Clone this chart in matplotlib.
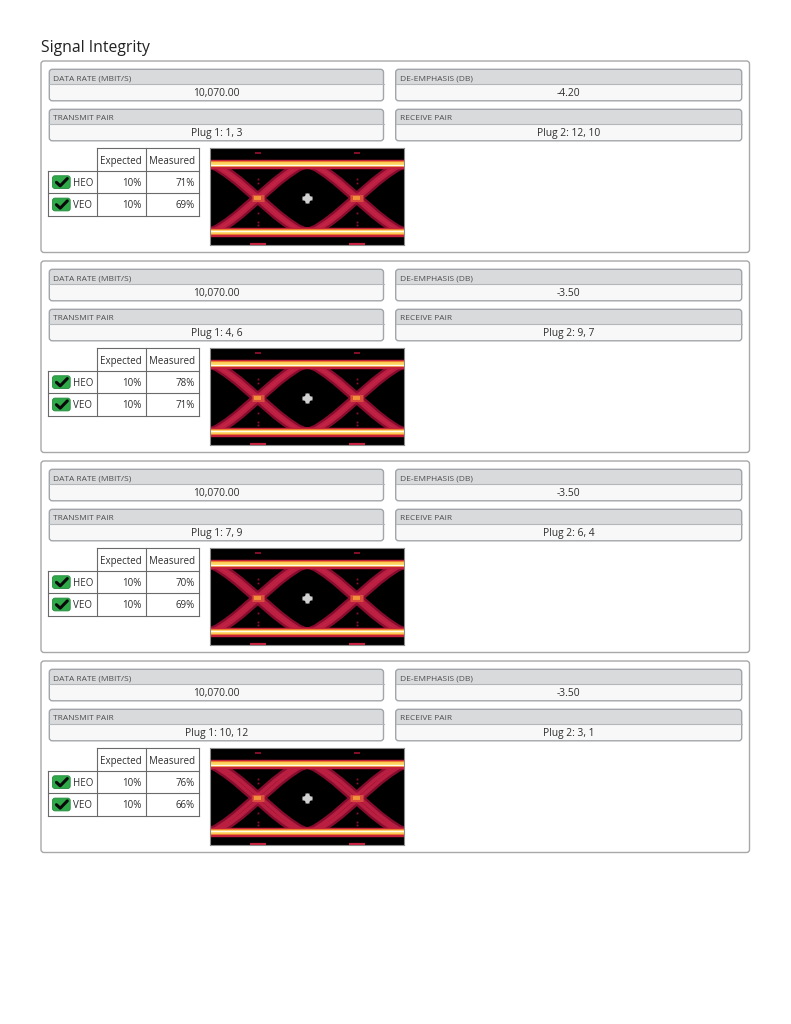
import numpy as np
import matplotlib
matplotlib.use('Agg')
import matplotlib.pyplot as plt
from matplotlib.patches import FancyBboxPatch, Rectangle

plt.rcParams['font.family'] = ['Open Sans', 'DejaVu Sans']

# values shown in the four result panels
data_rate = ['10,070.00', '10,070.00', '10,070.00', '10,070.00']
de_emphasis = ['-4.20', '-3.50', '-3.50', '-3.50']
transmit_pair = ['Plug 1: 1, 3', 'Plug 1: 4, 6', 'Plug 1: 7, 9', 'Plug 1: 10, 12']
receive_pair = ['Plug 2: 12, 10', 'Plug 2: 9, 7', 'Plug 2: 6, 4', 'Plug 2: 3, 1']
metrics = ['HEO', 'VEO']
expected = ['10%', '10%']
heo_measured = ['71%', '78%', '70%', '76%']
veo_measured = ['69%', '71%', '69%', '66%']

# eye diagram: one falling edge (time in UI around crossing, level 1 -> 0)
edge_t = [-0.52, -0.46, -0.4, -0.3, -0.2, -0.1, 0.0, 0.1, 0.2, 0.3, 0.4, 0.46, 0.52]
edge_level = [1.0, 0.99, 0.955, 0.86, 0.75, 0.625, 0.5, 0.375, 0.25, 0.14, 0.045, 0.01, 0.0]
crossings = [0.49, 1.51]
rail_top = 0.835
rail_bottom = 0.14
eye_center = (1.0, 0.49)
eye_jitter = [0.02, 0.02, 0.024, 0.032]
stray_dy = [0.68, 0.64, 0.33, 0.24, 0.21]

W, H = 791, 1024
PX = 100 / 72.0
fig = plt.figure(figsize=(W / 100, H / 100), dpi=100)
ax = fig.add_axes([0, 0, 1, 1])
ax.set_xlim(0, W)
ax.set_ylim(H, 0)
ax.axis('off')


def txt(x, yc, s, size, color, ha='left'):
    # yc is the visual middle of the capitals
    ax.text(x, yc + 0.357 * size * PX, s, fontsize=size, color=color, ha=ha, va='baseline')


txt(41, 46.8, 'Signal Integrity', 11.3, '#222222')

label_c = '#4e4e4e'
value_c = '#2e2e2e'


def field(x0, x1, y0, label, value):
    h = 31.5
    box = FancyBboxPatch((x0, y0), x1 - x0, h, boxstyle='round,pad=0,rounding_size=3',
                         facecolor='#d8dadc', edgecolor='none')
    ax.add_patch(box)
    val = Rectangle((x0, y0 + 15), x1 - x0, h - 15, facecolor='#f8f8f8', edgecolor='none')
    ax.add_patch(val)
    val.set_clip_path(box)
    ax.plot([x0, x1], [y0 + 15, y0 + 15], color='#b4b7ba', lw=0.8)
    ax.add_patch(FancyBboxPatch((x0, y0), x1 - x0, h, boxstyle='round,pad=0,rounding_size=3',
                                facecolor='none', edgecolor='#a2a6aa', lw=1.0))
    txt(x0 + 4, y0 + 7.9, label, 6.0, label_c)
    txt((x0 + x1) / 2, y0 + 23.3, value, 7.4, value_c, ha='center')


def eye(x0, y0, w, h, jit):
    e = fig.add_axes([x0 / W, 1 - (y0 + h) / H, w / W, h / H])
    e.set_facecolor('black')
    e.set_xlim(0, 2)
    e.set_ylim(0, 1)
    e.set_xticks([])
    e.set_yticks([])
    for s in e.spines.values():
        s.set_color('#8c8c8c')
        s.set_linewidth(0.8)
    t = np.array(edge_t)
    lv = np.array(edge_level)
    fall = rail_bottom + lv * (rail_top - rail_bottom)
    rise = rail_bottom + (1 - lv) * (rail_top - rail_bottom)
    mid = (rail_top + rail_bottom) / 2
    for c in crossings:
        # outer glow of the edges
        for d in (-jit, jit):
            for y in (fall, rise):
                e.plot(c + t + d, y, color='#9e0e36', lw=6.0, alpha=0.85,
                       solid_capstyle='butt', solid_joinstyle='round')
        for d in (-jit, jit):
            for y in (fall, rise):
                e.plot(c + t + d, y, color='#c92848', lw=2.6, alpha=0.7,
                       solid_capstyle='butt', solid_joinstyle='round')
        e.plot([c - 0.065, c + 0.065], [mid, mid], color='#d8503c', lw=5.0, solid_capstyle='butt')
        e.plot([c - 0.035, c + 0.035], [mid, mid], color='#f2923a', lw=2.8, solid_capstyle='butt')
        # stray samples and overshoot marks
        e.plot([c] * len(stray_dy), stray_dy, 's', ms=1.3, color='#8a1030', mec='none')
        e.plot([c - 0.08, c + 0.08], [0.012, 0.012], color='#c8203f', lw=1.6, solid_capstyle='butt')
        e.plot([c - 0.03, c + 0.03], [0.955, 0.955], color='#9a1232', lw=1.2, solid_capstyle='butt')
    for r, off in ((rail_top, 1), (rail_bottom, -1)):
        e.plot([0, 2], [r, r], color='#c01e3c', lw=6.8)
        e.plot([0, 2], [r + off * 0.004, r + off * 0.004], color='#ee7a32', lw=4.4)
        e.plot([0, 2], [r + off * 0.006, r + off * 0.006], color='#ffd45c', lw=2.7)
        e.plot([0, 2], [r - off * 0.006, r - off * 0.006], color='#fffbe8', lw=1.0)
    e.plot(*eye_center, marker='D', ms=5, color='#d0d0d0', mec='none')
    e.plot(*eye_center, marker='P', ms=7, color='#d0d0d0', mec='none')


def check(x0, y0):
    ax.add_patch(FancyBboxPatch((x0, y0), 17.7, 12.8, boxstyle='round,pad=0,rounding_size=2.5',
                                facecolor='#2fa84a', edgecolor='#238a3a', lw=0.6))
    ax.plot([x0 + 3.9, x0 + 7.7, x0 + 14.8], [y0 + 6.6, y0 + 10.1, y0 + 2.8],
            color='#0a0a0a', lw=2.2, solid_capstyle='round', solid_joinstyle='round')


for i in range(4):
    top = 61 + 200 * i
    ax.add_patch(FancyBboxPatch((41, top), 708.5, 191.5, boxstyle='round,pad=0,rounding_size=3',
                                facecolor='white', edgecolor='#a8a8a8', lw=1.0))
    field(49.3, 383.5, top + 8.3, 'DATA RATE (MBIT/S)', data_rate[i])
    field(395.7, 741.7, top + 8.3, 'DE-EMPHASIS (DB)', de_emphasis[i])
    field(49.3, 383.5, top + 48.3, 'TRANSMIT PAIR', transmit_pair[i])
    field(395.7, 741.7, top + 48.3, 'RECEIVE PAIR', receive_pair[i])

    # results table
    ty = top + 87.3
    cols = [48.3, 96.7, 145.7, 199.3]
    rows = [ty, ty + 22.7, ty + 45.0, ty + 67.4]
    lc = '#6a6a6a'
    ax.plot([cols[1], cols[3]], [rows[0], rows[0]], color=lc, lw=0.8)
    for r in rows[1:]:
        ax.plot([cols[0], cols[3]], [r, r], color=lc, lw=0.8)
    ax.plot([cols[0], cols[0]], [rows[1], rows[3]], color=lc, lw=0.8)
    for c in cols[1:]:
        ax.plot([c, c], [rows[0], rows[3]], color=lc, lw=0.8)
    hy = (rows[0] + rows[1]) / 2 + 0.6
    txt((cols[1] + cols[2]) / 2, hy, 'Expected', 7.0, value_c, ha='center')
    txt((cols[2] + cols[3]) / 2, hy, 'Measured', 7.0, value_c, ha='center')
    meas = [heo_measured[i], veo_measured[i]]
    for j in range(2):
        yc = (rows[j + 1] + rows[j + 2]) / 2
        check(52.5, yc - 6.4)
        txt(73, yc, metrics[j], 7.0, value_c)
        txt(cols[2] - 4.5, yc, expected[j], 7.0, value_c, ha='right')
        txt(cols[3] - 4.5, yc, meas[j], 7.0, value_c, ha='right')

    eye(210.3, top + 87.3, 194, 97, eye_jitter[i])

fig.savefig('out.png', dpi=100)
